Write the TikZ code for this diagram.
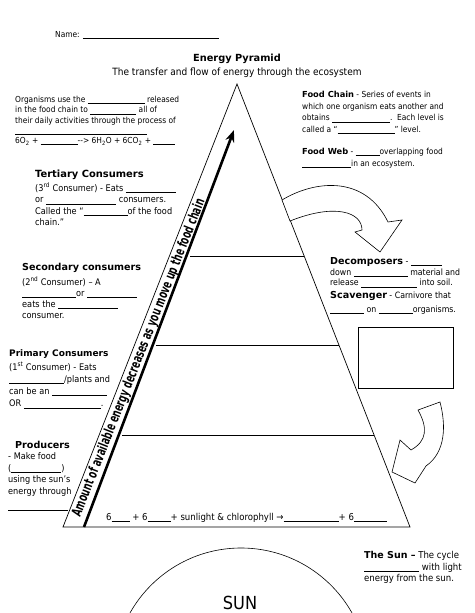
\documentclass[tikz,border=0pt]{standalone}
\usepackage{fontspec}
\setmainfont{DejaVu Sans Condensed}[BoldFont={DejaVu Sans Bold}]
\usepackage{graphicx}
\usetikzlibrary{arrows.meta}
\newcommand{\bl}[1]{\rule[-1.2pt]{#1pt}{0.5pt}}

\begin{document}
\begin{tikzpicture}[x=1pt,y=-1pt,
  txt/.style={anchor=north west,inner sep=0pt,align=left,font=\fontsize{9.1}{11}\selectfont},
  head/.style={anchor=west,inner sep=0pt,font=\fontsize{9.6}{11}\selectfont\bfseries},
  bigarrow/.style={fill=white,draw=black,line width=0.6pt}]
\useasboundingbox (0,0) rectangle (474,613);

% pyramid
\coordinate (top) at (237,84);
\coordinate (left) at (63,527);
\coordinate (right) at (410,527);
\draw[line width=0.7pt] (left) -- (top) -- (right) -- cycle;
\draw[line width=0.8pt] (190,256) -- (304,256);
\draw[line width=0.8pt] (156,345) -- (339,345);
\draw[line width=0.8pt] (122,435) -- (374,435);

% energy arrow and its band
\coordinate (e1) at (84,527);
\coordinate (e2) at (234,130);
\draw[line width=2.6pt,-{Stealth[length=12pt,width=9pt]}] (e1) -- (e2);
\node[rotate=68.5,inner sep=0pt] (band) at (139,358)
  {\resizebox{340pt}{10.5pt}{\bfseries Amount of available energy decreases as you move up the food chain}};

% cycle arrows and box
\filldraw[bigarrow] (282,200) .. controls (315,180) and (365,175) .. (388,222) -- (402,220) -- (380,252)
  -- (355,232) -- (362,230) .. controls (362,212) and (335,203) .. (290,221) -- cycle;
\filldraw[bigarrow] (418,410) -- (440,402) .. controls (446,425) and (446,452) .. (426,466) -- (415,483)
  -- (392,472) -- (400,440) -- (411,450) .. controls (427,441) and (428,428) .. (418,410) -- cycle;
\draw[line width=0.6pt] (358,327) rectangle (453,388);

% sun
\begin{scope}
\clip (0,0) rectangle (474,613);
\draw[line width=0.6pt] (241,675.3) circle (127.3pt);
\end{scope}
\node[font=\fontsize{18}{22}\selectfont] (sun) at (240,603) {SUN};

% heading
\node[anchor=west,inner sep=0pt,font=\fontsize{8.3}{10}\selectfont] (name) at (55,35) {Name: \bl{136}};
\node[head,anchor=center,font=\fontsize{9.8}{11}\selectfont\bfseries] (title) at (237,59) {Energy Pyramid};
\node[inner sep=0pt,font=\fontsize{10}{12}\selectfont] (subtitle) at (237,73) {The transfer and flow of energy through the ecosystem};

% left column
\node[txt,font=\fontsize{8.3}{10.3}\selectfont] (organisms) at (15,96) {Organisms use the \bl{57} released\\in the food chain to \bl{46} all of\\their daily activities through the process of\\\bl{132}\\6O\textsubscript{2} + \bl{37}-{}-> 6H\textsubscript{2}O + 6CO\textsubscript{2} + \bl{22}};

\node[head,font=\fontsize{9.9}{11}\selectfont\bfseries] (tertiary) at (35,175) {Tertiary Consumers};
\node[txt,font=\fontsize{9.1}{11.5}\selectfont] (tertiarytxt) at (35,182.5) {(3\textsuperscript{rd} Consumer) - Eats \bl{50}\\or \bl{70} consumers.\\Called the “\bl{44}of the food\\chain.”};

\node[head] (secondary) at (22,268) {Secondary consumers};
\node[txt] (secondarytxt) at (22,276.5) {(2\textsuperscript{nd} Consumer) – A\\\bl{54}or \bl{50}\\eats the \bl{60}\\consumer.};

\node[head,font=\fontsize{9}{11}\selectfont\bfseries] (primary) at (9,354) {Primary Consumers};
\node[txt,font=\fontsize{9.1}{12.3}\selectfont] (primarytxt) at (9,361.5) {(1\textsuperscript{st} Consumer) - Eats\\\bl{55}/plants and\\can be an \bl{55}\\OR \bl{77}.};

\node[head] (producers) at (15,445) {Producers};
\node[txt,font=\fontsize{9.1}{11.5}\selectfont] (producerstxt) at (8,452.5) {- Make food\\(\bl{50})\\using the sun’s\\energy through\\[3.5pt]\bl{60}};

% right column
\node[txt,font=\fontsize{8.3}{11.7}\selectfont] (chain) at (302,91) {\textbf{Food Chain} - Series of events in\\which one organism eats another and\\obtains \bl{58}.\ \ Each level is\\called a “\bl{57}” level.};
\node[txt,font=\fontsize{8.3}{11.7}\selectfont] (web) at (302,148) {\textbf{Food Web} - \bl{24}overlapping food\\\bl{49}in an ecosystem.};

\node[head] (decomp) at (330,262) {Decomposers{\mdseries\fontsize{8.7}{10}\selectfont\ - \bl{31}}};
\node[txt,font=\fontsize{8.7}{10.5}\selectfont] (decomptxt) at (330,268.5) {down \bl{54} material and\\release \bl{56} into soil.};
\node[head] (scav) at (330,296) {Scavenger{\mdseries\fontsize{8.7}{10}\selectfont\ - Carnivore that}};
\node[txt,font=\fontsize{8.7}{11}\selectfont] (scavtxt) at (330,305.5) {\bl{34} on \bl{34}organisms.};

\node[txt,font=\fontsize{9.5}{11.2}\selectfont] (suntxt) at (364,551.5) {\textbf{The Sun –} The cycle\\\bl{55} with light\\energy from the sun.};

% photosynthesis
\node[anchor=west,inner sep=0pt,font=\fontsize{9.5}{10}\selectfont] (photo) at (106,518) {6\bl{18} + 6\bl{23}+ sunlight \& chlorophyll →\bl{55}+ 6\bl{33}};
\end{tikzpicture}
\end{document}
